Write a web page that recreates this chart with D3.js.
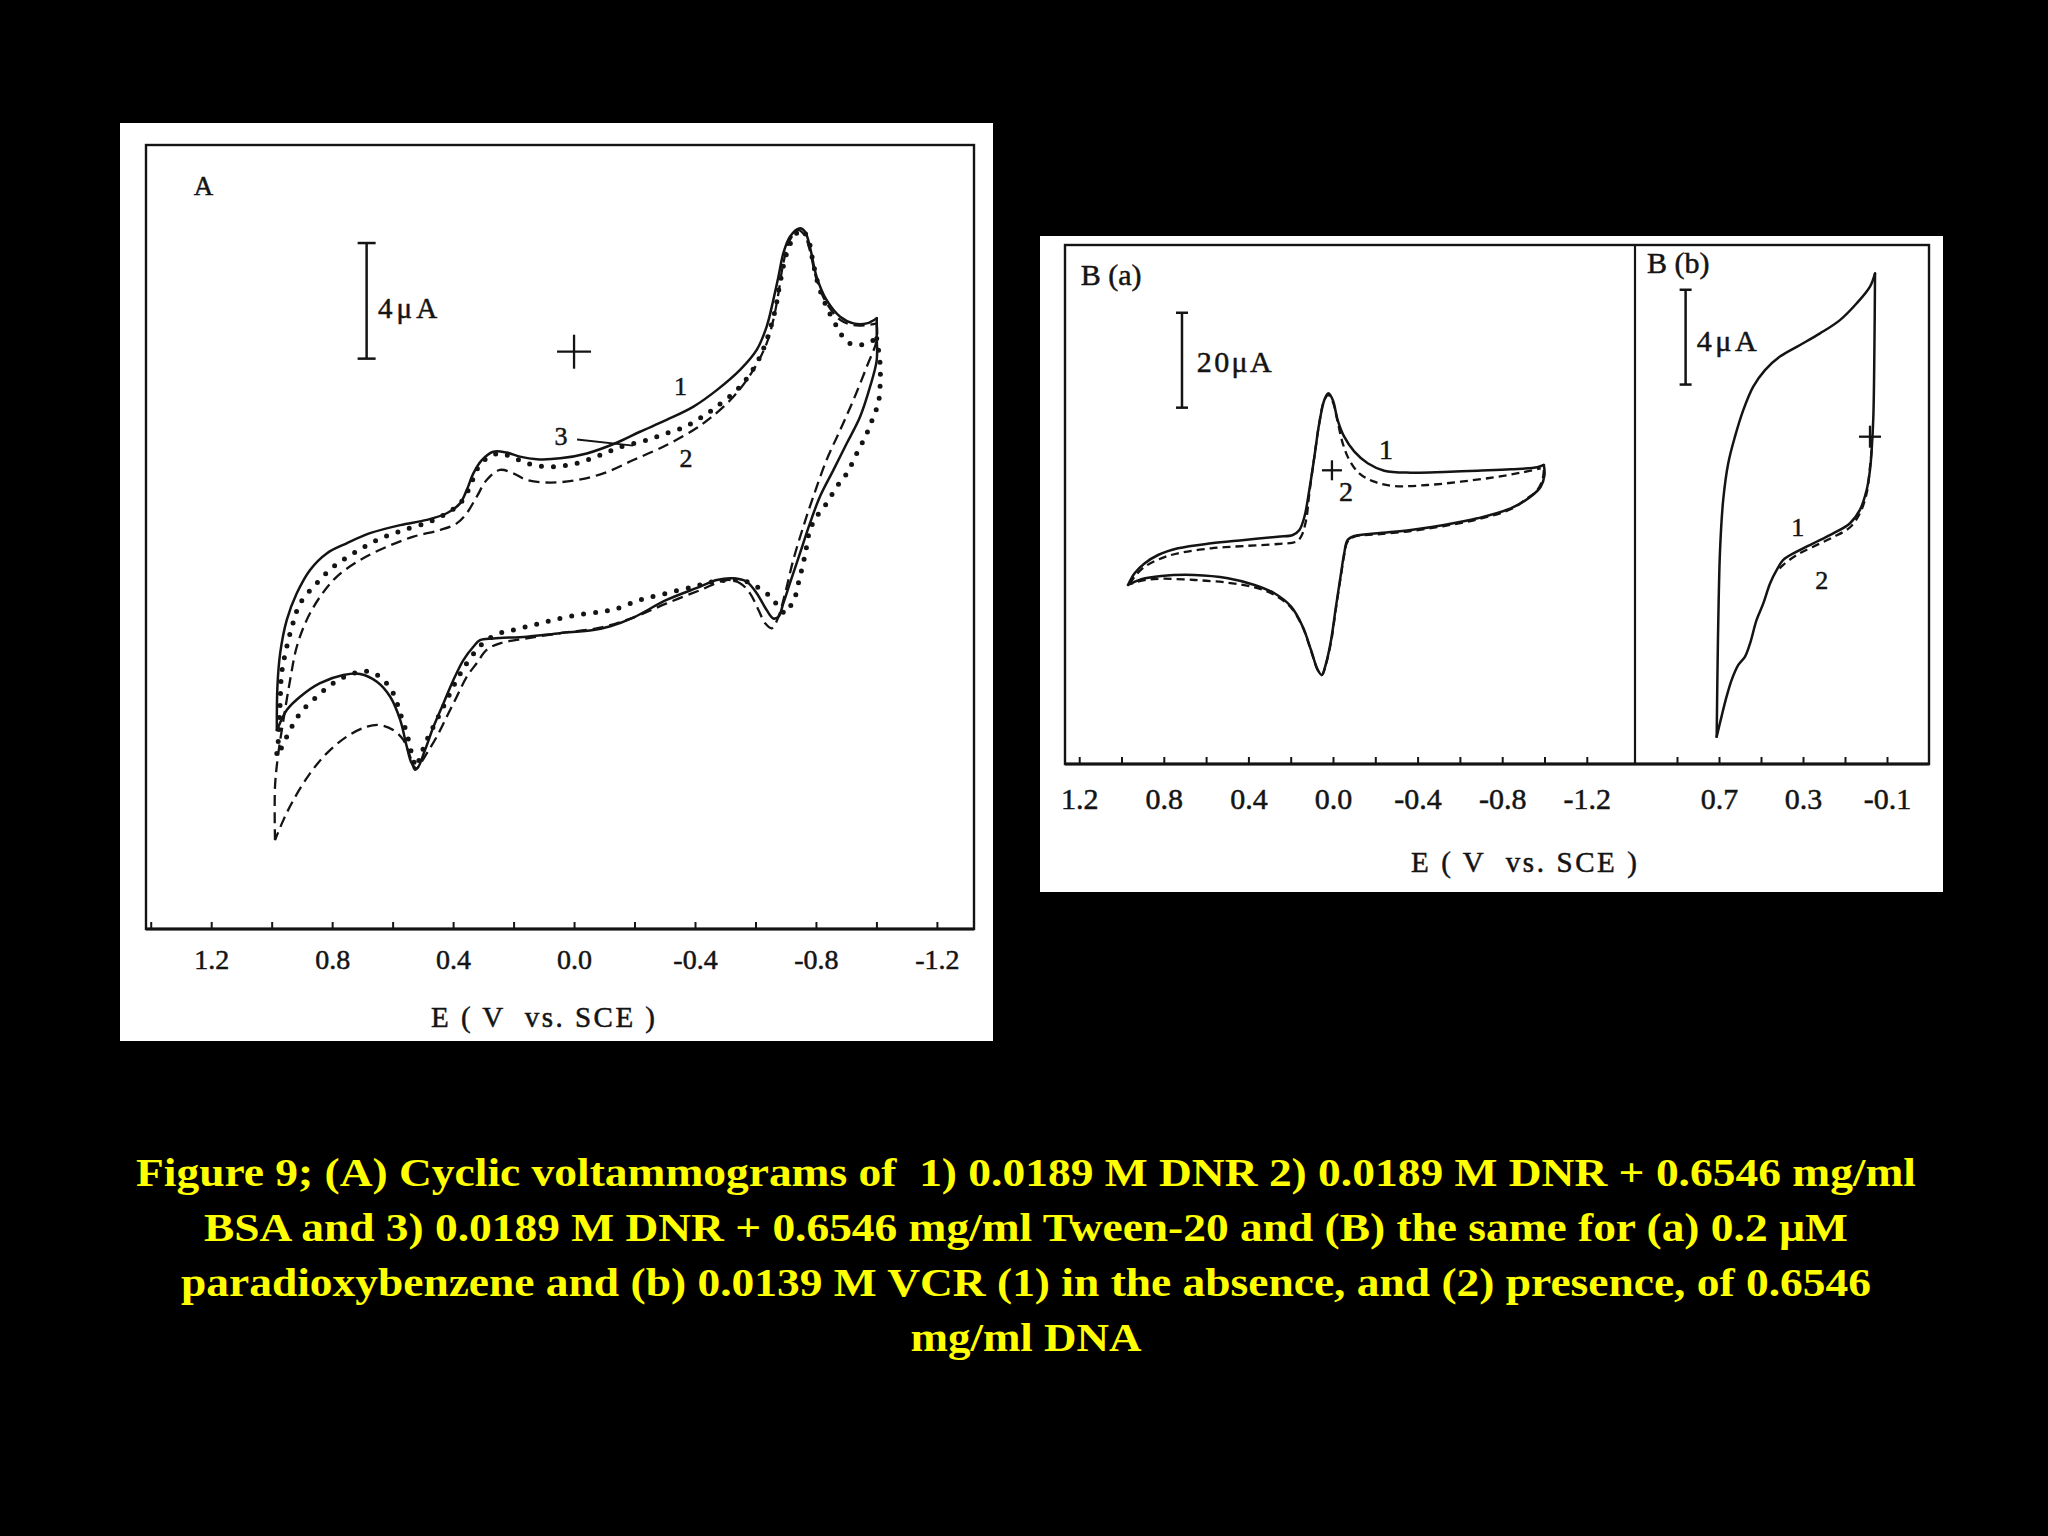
<!DOCTYPE html>
<html>
<head>
<meta charset="utf-8">
<script src="https://cdn.jsdelivr.net/npm/d3@7"></script>
<style>
  html, body { margin: 0; padding: 0; background: #000; }
  svg { display: block; }
</style>
</head>
<body>
<div id="chart"></div>
<script>
// E in V vs. SCE, current in uA

// Panel A tick values and labels
const aTicks = [1.4, 1.2, 1.0, 0.8, 0.6, 0.4, 0.2, 0, -0.2, -0.4, -0.6, -0.8, -1.0, -1.2];
const aLabels = [1.2, 0.8, 0.4, 0, -0.4, -0.8, -1.2];

// Panel A, curve 1 (solid): forward sweep and return sweep
const aSolidFwd = [[0.983,-13.09],[0.981,-11.59],[0.972,-10.44],[0.950,-9.28],[0.917,-8.36],[0.873,-7.55],[0.818,-6.98],[0.752,-6.63],[0.675,-6.28],[0.575,-6.00],[0.487,-5.82],[0.421,-5.59],[0.377,-5.25],[0.355,-4.79],[0.333,-4.21],[0.305,-3.75],[0.267,-3.46],[0.223,-3.49],[0.179,-3.63],[0.123,-3.72],[0.046,-3.69],[-0.042,-3.52],[-0.141,-3.15],[-0.218,-2.77],[-0.306,-2.36],[-0.395,-1.90],[-0.472,-1.33],[-0.549,-0.63],[-0.604,0.06],[-0.637,0.87],[-0.659,1.79],[-0.676,2.60],[-0.692,3.40],[-0.714,3.98],[-0.747,4.27],[-0.764,4.15],[-0.780,3.63],[-0.802,2.60],[-0.835,1.79],[-0.880,1.21],[-0.924,0.98],[-0.968,0.98],[-1.001,1.16]];
const aSolidRev = [[-1.001,1.16],[-1.001,0.52],[-1.001,-0.29],[-0.979,-1.21],[-0.946,-2.25],[-0.902,-3.17],[-0.858,-4.09],[-0.813,-5.02],[-0.780,-5.94],[-0.747,-6.98],[-0.714,-8.01],[-0.692,-8.71],[-0.676,-9.17],[-0.659,-9.23],[-0.637,-8.94],[-0.604,-8.36],[-0.571,-7.96],[-0.527,-7.84],[-0.472,-7.90],[-0.417,-8.13],[-0.306,-8.59],[-0.196,-9.20],[-0.120,-9.50],[-0.064,-9.63],[0.046,-9.74],[0.156,-9.86],[0.267,-9.92],[0.311,-9.98],[0.333,-10.21],[0.366,-10.67],[0.399,-11.36],[0.432,-12.17],[0.465,-12.98],[0.493,-13.78],[0.520,-14.42],[0.537,-14.24],[0.553,-13.67],[0.575,-12.74],[0.608,-11.94],[0.652,-11.42],[0.708,-11.15],[0.763,-11.19],[0.840,-11.47],[0.906,-11.94],[0.950,-12.40],[0.978,-12.98],[0.983,-13.09]];

// Panel A, curve 2 (dashed)
const aDashFwd = [[0.989,-16.90],[0.989,-15.05],[0.978,-13.90],[0.961,-12.74],[0.939,-11.36],[0.917,-10.21],[0.884,-9.28],[0.840,-8.48],[0.785,-7.79],[0.708,-7.21],[0.619,-6.75],[0.531,-6.40],[0.443,-6.17],[0.388,-5.94],[0.355,-5.59],[0.322,-5.02],[0.289,-4.44],[0.245,-4.09],[0.201,-4.21],[0.156,-4.44],[0.079,-4.53],[-0.009,-4.44],[-0.097,-4.21],[-0.196,-3.75],[-0.306,-3.23],[-0.395,-2.71],[-0.450,-2.30],[-0.527,-1.56],[-0.593,-0.63],[-0.637,0.29],[-0.659,1.10],[-0.676,2.02],[-0.692,3.06],[-0.714,3.87],[-0.742,4.21],[-0.764,4.00],[-0.780,3.50],[-0.802,2.50],[-0.835,1.68],[-0.880,1.10],[-0.924,0.92],[-0.968,0.92],[-1.001,0.98]];
const aDashRev = [[-1.001,0.98],[-1.001,0.40],[-0.968,-0.52],[-0.924,-1.67],[-0.880,-2.71],[-0.835,-3.75],[-0.791,-5.02],[-0.758,-6.06],[-0.725,-7.21],[-0.698,-8.36],[-0.676,-9.17],[-0.654,-9.57],[-0.632,-9.40],[-0.610,-8.94],[-0.582,-8.36],[-0.549,-8.01],[-0.505,-7.90],[-0.417,-8.25],[-0.306,-8.71],[-0.196,-9.20],[-0.086,-9.55],[0.046,-9.74],[0.156,-9.92],[0.245,-10.09],[0.289,-10.32],[0.322,-10.78],[0.355,-11.25],[0.388,-11.94],[0.421,-12.63],[0.454,-13.32],[0.487,-13.90],[0.515,-14.36],[0.526,-14.47],[0.542,-14.01],[0.564,-13.44],[0.598,-13.09],[0.642,-12.92],[0.686,-12.98],[0.752,-13.32],[0.818,-13.90],[0.873,-14.59],[0.928,-15.51],[0.961,-16.20],[0.989,-16.90]];

// Panel A, curve 3 (dotted)
const aDotFwd = [[0.983,-13.90],[0.978,-13.44],[0.972,-12.17],[0.967,-11.13],[0.950,-10.21],[0.933,-9.52],[0.906,-8.71],[0.851,-8.01],[0.796,-7.44],[0.730,-6.98],[0.652,-6.52],[0.564,-6.17],[0.476,-5.88],[0.421,-5.59],[0.377,-5.25],[0.344,-4.67],[0.322,-4.09],[0.289,-3.69],[0.245,-3.52],[0.190,-3.72],[0.135,-3.92],[0.068,-3.98],[-0.009,-3.86],[-0.086,-3.58],[-0.152,-3.30],[-0.240,-3.06],[-0.306,-2.82],[-0.367,-2.60],[-0.417,-2.30],[-0.472,-1.90],[-0.549,-1.21],[-0.604,-0.40],[-0.637,0.40],[-0.665,1.44],[-0.681,2.36],[-0.703,3.40],[-0.731,4.04],[-0.753,4.21],[-0.775,3.87],[-0.791,3.06],[-0.808,2.31],[-0.835,1.56],[-0.869,0.87],[-0.902,0.35],[-0.935,0.23],[-0.968,0.29],[-1.001,0.46]];
const aDotRev = [[-1.001,0.46],[-1.012,-0.40],[-1.012,-1.21],[-1.006,-1.79],[-0.990,-2.25],[-0.968,-2.83],[-0.935,-3.52],[-0.902,-4.21],[-0.869,-4.67],[-0.835,-5.25],[-0.802,-5.71],[-0.780,-6.17],[-0.769,-6.75],[-0.758,-7.32],[-0.742,-8.01],[-0.731,-8.48],[-0.714,-8.83],[-0.698,-9.05],[-0.681,-8.89],[-0.659,-8.59],[-0.637,-8.36],[-0.604,-8.13],[-0.571,-7.96],[-0.527,-7.90],[-0.461,-7.96],[-0.395,-8.13],[-0.306,-8.36],[-0.218,-8.59],[-0.141,-8.89],[-0.086,-9.00],[-0.009,-9.11],[0.068,-9.28],[0.135,-9.46],[0.201,-9.63],[0.245,-9.74],[0.289,-9.98],[0.322,-10.32],[0.355,-10.78],[0.388,-11.36],[0.421,-12.05],[0.454,-12.74],[0.487,-13.44],[0.509,-14.01],[0.522,-14.36],[0.537,-13.90],[0.553,-13.21],[0.575,-12.51],[0.598,-11.82],[0.631,-11.36],[0.675,-11.07],[0.730,-11.13],[0.796,-11.47],[0.851,-11.94],[0.906,-12.51],[0.945,-13.21],[0.972,-13.78],[0.983,-13.90]];

// Panel B(a) ticks, labels and curves
const baTicks = [1.2, 1.0, 0.8, 0.6, 0.4, 0.2, 0, -0.2, -0.4, -0.6, -0.8, -1.0, -1.2];
const baLabels = [1.2, 0.8, 0.4, 0, -0.4, -0.8, -1.2];
const baSolidFwd = [[0.969,-24.17],[0.938,-21.71],[0.890,-19.60],[0.827,-17.85],[0.733,-16.44],[0.576,-15.38],[0.419,-14.69],[0.261,-13.99],[0.190,-13.64],[0.159,-12.58],[0.135,-9.78],[0.112,-4.15],[0.088,2.87],[0.065,9.91],[0.041,14.82],[0.022,16.23],[0.001,14.82],[-0.022,10.60],[-0.053,7.08],[-0.101,3.92],[-0.164,1.48],[-0.242,-0.08],[-0.368,-0.51],[-0.525,-0.36],[-0.683,-0.08],[-0.840,0.21],[-0.966,0.63],[-0.997,1.12]];
const baSolidRev = [[-0.997,1.12],[-1.000,-0.99],[-0.982,-3.46],[-0.934,-5.56],[-0.840,-8.01],[-0.683,-10.12],[-0.525,-11.53],[-0.368,-12.58],[-0.211,-13.28],[-0.101,-13.85],[-0.069,-14.69],[-0.053,-17.49],[-0.038,-21.71],[-0.014,-28.74],[0.009,-35.76],[0.033,-40.67],[0.053,-43.14],[0.072,-42.09],[0.104,-37.87],[0.143,-32.96],[0.198,-28.74],[0.277,-25.92],[0.371,-24.17],[0.497,-22.76],[0.655,-22.07],[0.812,-22.28],[0.906,-22.97],[0.969,-24.17]];
const baDashFwd = [[0.961,-23.96],[0.938,-22.42],[0.890,-20.32],[0.812,-18.55],[0.733,-17.49],[0.576,-16.44],[0.419,-15.95],[0.261,-15.53],[0.175,-15.05],[0.151,-13.99],[0.127,-10.47],[0.112,-4.85],[0.088,2.87],[0.065,9.91],[0.041,14.82],[0.022,15.87],[0.001,14.46],[-0.022,10.24],[-0.046,5.69],[-0.077,2.17],[-0.124,-0.63],[-0.195,-2.40],[-0.289,-3.31],[-0.447,-3.10],[-0.604,-2.40],[-0.761,-1.48],[-0.887,-0.51],[-0.982,0.42]];
const baDashRev = [[-0.997,0.06],[-0.990,-2.04],[-0.966,-4.15],[-0.919,-5.90],[-0.840,-8.22],[-0.683,-10.33],[-0.525,-11.74],[-0.368,-12.79],[-0.211,-13.49],[-0.101,-13.99],[-0.069,-15.05],[-0.053,-17.85],[-0.038,-22.07],[-0.014,-29.08],[0.009,-36.12],[0.033,-40.82],[0.053,-43.14],[0.072,-42.09],[0.104,-38.02],[0.143,-33.09],[0.198,-28.96],[0.277,-26.28],[0.371,-24.66],[0.497,-23.69],[0.655,-23.12],[0.812,-22.85],[0.890,-23.12],[0.961,-23.96]];

// Panel B(b) ticks, labels and curves
const bbTicks = [0.9, 0.7, 0.5, 0.3, 0.1, -0.1];
const bbLabels = [0.7, 0.3, -0.1];
const bbSolidUp = [[0.711,-12.66],[0.708,-10.41],[0.703,-7.59],[0.695,-4.78],[0.680,-2.67],[0.656,-1.12],[0.624,0.00],[0.584,1.13],[0.537,2.11],[0.481,2.81],[0.410,3.38],[0.314,3.87],[0.219,4.36],[0.124,4.92],[0.044,5.63],[-0.019,6.33],[-0.043,6.89]];
const bbSolidDown = [[-0.043,6.89],[-0.040,3.66],[-0.035,0.84],[-0.027,-0.56],[-0.019,-1.41],[-0.003,-2.25],[0.029,-3.09],[0.076,-3.65],[0.156,-4.08],[0.251,-4.50],[0.330,-4.85],[0.394,-5.20],[0.425,-5.62],[0.457,-6.19],[0.489,-7.03],[0.521,-7.73],[0.552,-8.72],[0.576,-9.28],[0.608,-9.63],[0.640,-10.27],[0.664,-10.97],[0.688,-11.81],[0.711,-12.66]];
const bbDash = [[-0.027,-0.56],[-0.019,-1.27],[-0.003,-2.39],[0.029,-3.23],[0.076,-3.82],[0.156,-4.24],[0.251,-4.64],[0.330,-4.99],[0.394,-5.41],[0.425,-5.70]];

// Caption lines
const captionLines = [
  'Figure 9; (A) Cyclic voltammograms of  1) 0.0189 M DNR 2) 0.0189 M DNR + 0.6546 mg/ml',
  'BSA and 3) 0.0189 M DNR + 0.6546 mg/ml Tween-20 and (B) the same for (a) 0.2 \u00b5M',
  'paradioxybenzene and (b) 0.0139 M VCR (1) in the absence, and (2) presence, of 0.6546',
  'mg/ml DNA'
];

// ---------------------------------------------------------------
const serif = '"Liberation Serif", "Times New Roman", serif';
const ink = '#141414';
const fmt = d => (d < 0 ? '-' : '') + Math.abs(d).toFixed(1);

const svg = d3.select('#chart')
  .append('svg')
  .attr('width', 2048)
  .attr('height', 1536);

svg.append('rect').attr('width', 2048).attr('height', 1536).attr('fill', '#000');

// white "paper" behind the two scanned figures
svg.append('rect').attr('x', 120).attr('y', 123).attr('width', 873).attr('height', 918).attr('fill', '#fff');
svg.append('rect').attr('x', 1040).attr('y', 236).attr('width', 903).attr('height', 656).attr('fill', '#fff');

// line styles
const styles = {
  solid: { dash: null, width: 2.5, cap: 'round' },
  dashA: { dash: '11,6', width: 2.3, cap: 'butt' },
  dotA: { dash: '0,12', width: 5, cap: 'round' },
  dashB: { dash: '8,5', width: 2.3, cap: 'butt' }
};

function drawCurve(g, x, y, pts, st) {
  const line = d3.line()
    .x(d => x(d[0]))
    .y(d => y(d[1]))
    .curve(d3.curveCatmullRom.alpha(0.5));
  g.append('path')
    .datum(pts)
    .attr('d', line)
    .attr('fill', 'none')
    .attr('stroke', ink)
    .attr('stroke-width', st.width)
    .attr('stroke-linecap', st.cap)
    .attr('stroke-linejoin', 'round')
    .attr('stroke-dasharray', st.dash);
}

function bottomAxis(g, x, yPos, ticks, labels, pad, size) {
  g.append('g')
    .attr('transform', 'translate(0,' + yPos + ')')
    .call(d3.axisBottom(x)
      .tickValues(ticks)
      .tickSize(-7)
      .tickPadding(pad)
      .tickFormat(d => labels.includes(d) ? fmt(d) : ''))
    .call(a => a.select('.domain').remove())
    .call(a => a.selectAll('line').attr('stroke', ink).attr('stroke-width', 2))
    .call(a => a.selectAll('text').attr('fill', ink).attr('stroke', ink).attr('stroke-width', 0.5))
    .attr('font-family', serif)
    .attr('font-size', size);
}

function scaleBar(g, x, y, e, i0, i1, cap) {
  g.append('line')
    .attr('x1', x(e)).attr('x2', x(e))
    .attr('y1', y(i0)).attr('y2', y(i1))
    .attr('stroke', ink).attr('stroke-width', 2.5);
  [i0, i1].forEach(v => {
    g.append('line')
      .attr('x1', x(e) - cap).attr('x2', x(e) + cap)
      .attr('y1', y(v)).attr('y2', y(v))
      .attr('stroke', ink).attr('stroke-width', 2.5);
  });
}

function cross(g, x, y, e, i, r) {
  g.append('line').attr('x1', x(e) - r).attr('x2', x(e) + r).attr('y1', y(i)).attr('y2', y(i))
    .attr('stroke', ink).attr('stroke-width', 2.3);
  g.append('line').attr('x1', x(e)).attr('x2', x(e)).attr('y1', y(i) - r).attr('y2', y(i) + r)
    .attr('stroke', ink).attr('stroke-width', 2.3);
}

function label(g, px, py, txt, size, anchor, width) {
  const t = g.append('text')
    .attr('x', px)
    .attr('y', py)
    .attr('dominant-baseline', 'central')
    .attr('text-anchor', anchor || 'middle')
    .attr('font-family', serif)
    .attr('font-size', size)
    .attr('fill', ink)
    .attr('stroke', ink)
    .attr('stroke-width', 0.5)
    .style('white-space', 'pre')
    .text(txt);
  if (width) t.attr('textLength', width).attr('lengthAdjust', 'spacing');
}

function axisTitle(g, px, py, width) {
  g.append('text')
    .attr('x', px).attr('y', py)
    .attr('text-anchor', 'middle')
    .attr('font-family', serif).attr('font-size', 29)
    .attr('fill', ink).attr('stroke', ink).attr('stroke-width', 0.5)
    .attr('textLength', width).attr('lengthAdjust', 'spacing')
    .style('white-space', 'pre')
    .text('E ( V  vs. SCE )');
}

// ---------------- Panel A ----------------
const gA = svg.append('g');
const xA = d3.scaleLinear().domain([1.2, -1.2]).range([211.2, 936.9]);
const yA = d3.scaleLinear().domain([0, 4]).range([351.7, 236.1]);

gA.append('rect')
  .attr('x', 146).attr('y', 145).attr('width', 828).attr('height', 784)
  .attr('fill', 'none').attr('stroke', ink).attr('stroke-width', 2.4);
gA.append('line').attr('x1', 146).attr('x2', 974).attr('y1', 929).attr('y2', 929)
  .attr('stroke', ink).attr('stroke-width', 3);

bottomAxis(gA, xA, 929, aTicks, aLabels, 20, 28);

drawCurve(gA, xA, yA, aDashFwd, styles.dashA);
drawCurve(gA, xA, yA, aDashRev, styles.dashA);
drawCurve(gA, xA, yA, aDotFwd, styles.dotA);
drawCurve(gA, xA, yA, aDotRev, styles.dotA);
drawCurve(gA, xA, yA, aSolidFwd, styles.solid);
drawCurve(gA, xA, yA, aSolidRev, styles.solid);

scaleBar(gA, xA, yA, 0.686, -0.24, 3.76, 9);
cross(gA, xA, yA, 0, 0, 17);
label(gA, xA(0.648), yA(1.52), '4\u03bcA', 29, 'start', 59);
label(gA, xA(1.258), yA(5.74), 'A', 27, 'start');
label(gA, xA(-0.352), yA(-1.22), '1', 26);
label(gA, xA(-0.370), yA(-3.71), '2', 26);
label(gA, xA(0.043), yA(-2.94), '3', 26);
gA.append('line')
  .attr('x1', xA(-0.010)).attr('y1', yA(-3.04))
  .attr('x2', xA(-0.195)).attr('y2', yA(-3.25))
  .attr('stroke', ink).attr('stroke-width', 2);

axisTitle(gA, 543, 1027, 224);

// ---------------- Panel B ----------------
const gB = svg.append('g');
gB.append('rect')
  .attr('x', 1065).attr('y', 245).attr('width', 864).attr('height', 519)
  .attr('fill', 'none').attr('stroke', ink).attr('stroke-width', 2.4);
gB.append('line').attr('x1', 1065).attr('x2', 1929).attr('y1', 764).attr('y2', 764)
  .attr('stroke', ink).attr('stroke-width', 3);
gB.append('line').attr('x1', 1635).attr('x2', 1635).attr('y1', 245).attr('y2', 764)
  .attr('stroke', ink).attr('stroke-width', 2.2);

// B(a)
const xBa = d3.scaleLinear().domain([1.2, -1.2]).range([1079.2, 1586.8]);
const yBa = d3.scaleLinear().domain([0, 20]).range([470.3, 375.4]);
bottomAxis(gB, xBa, 764, baTicks, baLabels, 24, 30);
drawCurve(gB, xBa, yBa, baDashFwd, styles.dashB);
drawCurve(gB, xBa, yBa, baDashRev, styles.dashB);
drawCurve(gB, xBa, yBa, baSolidFwd, styles.solid);
drawCurve(gB, xBa, yBa, baSolidRev, styles.solid);
scaleBar(gB, xBa, yBa, 0.714, 13.2, 33.2, 6);
cross(gB, xBa, yBa, 0.005, 0, 10);
label(gB, xBa(0.644), yBa(22.9), '20\u03bcA', 30, 'start', 75);
label(gB, xBa(1.193), yBa(41.2), 'B (a)', 30, 'start');
label(gB, xBa(-0.25), yBa(4.28), '1', 28);
label(gB, xBa(-0.061), yBa(-4.51), '2', 28);

// B(b)
const xBb = d3.scaleLinear().domain([0.7, -0.1]).range([1719, 1887]);
const yBb = d3.scaleLinear().domain([0, 4]).range([436.7, 341.9]);
bottomAxis(gB, xBb, 764, bbTicks, bbLabels, 24, 30);
drawCurve(gB, xBb, yBb, bbDash, styles.dashB);
drawCurve(gB, xBb, yBb, bbSolidUp, styles.solid);
drawCurve(gB, xBb, yBb, bbSolidDown, styles.solid);
scaleBar(gB, xBb, yBb, 0.859, 2.2, 6.2, 6);
cross(gB, xBb, yBb, -0.019, 0, 11);
label(gB, xBb(0.806), yBb(4.08), '4\u03bcA', 30, 'start', 60);
label(gB, xBb(1.043), yBb(7.35), 'B (b)', 30, 'start');
label(gB, xBb(0.325), yBb(-3.85), '1', 26);
label(gB, xBb(0.211), yBb(-6.05), '2', 26);

axisTitle(gB, 1524, 872, 226);

// ---------------- Caption ----------------
const captionWidths = [1780, 1644, 1690, 231];
svg.append('g')
  .selectAll('text')
  .data(captionLines)
  .enter()
  .append('text')
  .attr('x', 1026)
  .attr('y', (d, i) => 1186 + i * 55)
  .attr('text-anchor', 'middle')
  .attr('font-family', serif)
  .attr('font-weight', 'bold')
  .attr('font-size', 41)
  .attr('fill', '#ffff00')
  .attr('textLength', (d, i) => captionWidths[i])
  .attr('lengthAdjust', 'spacingAndGlyphs')
  .style('white-space', 'pre')
  .text(d => d);
</script>
</body>
</html>
